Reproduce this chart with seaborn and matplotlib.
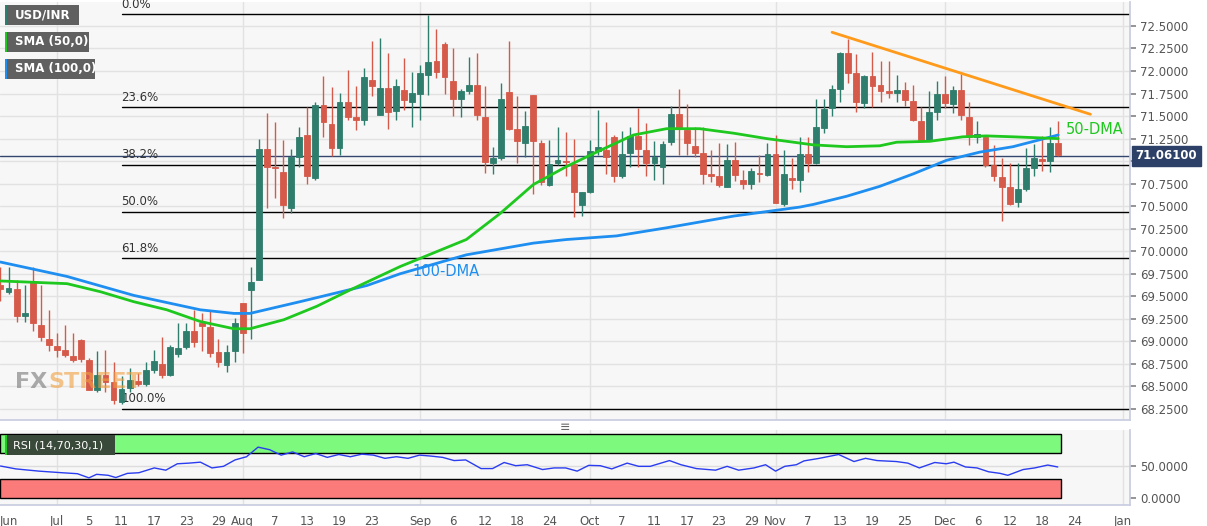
import numpy as np
import pandas as pd
import matplotlib
matplotlib.use("Agg")
import matplotlib.pyplot as plt
import seaborn as sns
from matplotlib.patches import Rectangle
import matplotlib.transforms as mtrans

# ---------------- data ----------------
dates = pd.bdate_range(end="2019-12-20", periods=132)
opens = [69.62,69.55,69.58,69.28,69.66,69.18,69.03,68.95,68.90,68.84,69.02,68.79,68.46,68.63,68.55,68.33,68.48,68.56,68.53,68.68,
         68.75,68.63,68.86,68.94,69.11,69.20,69.16,68.88,68.74,68.89,69.42,69.57,69.68,71.14,70.93,70.88,70.48,71.05,71.29,70.81,
         71.62,71.41,71.15,71.66,71.49,71.46,71.90,71.51,71.81,71.56,71.79,71.66,71.74,71.96,72.11,72.30,71.89,71.69,71.78,71.85,
         71.49,70.98,71.04,71.77,71.36,71.20,71.73,71.20,70.74,70.98,71.00,70.97,70.51,70.66,71.11,71.12,71.27,70.83,71.09,71.28,
         71.12,70.98,70.94,71.21,71.52,71.34,71.17,71.09,70.86,70.84,70.71,71.01,70.79,70.75,70.87,70.85,71.08,70.52,70.81,70.79,
         71.08,70.98,71.37,71.59,71.80,72.20,71.98,71.64,71.94,71.85,71.78,71.76,71.79,71.67,71.45,71.24,71.55,71.75,71.63,71.79,
         71.49,71.27,71.27,70.96,70.82,70.71,70.55,70.69,70.92,71.02,71.00,71.20]
closes = [69.58,69.59,69.28,69.31,69.20,69.05,68.96,68.90,68.85,68.79,68.80,68.46,68.63,68.55,68.35,68.47,68.57,68.53,68.68,68.78,
          68.63,68.94,68.93,69.11,68.99,69.17,68.87,68.77,68.88,69.20,69.09,69.66,71.14,70.94,70.92,70.51,71.05,71.27,70.83,71.62,
          71.43,71.15,71.66,71.49,71.46,71.93,71.83,71.81,71.55,71.83,71.68,71.76,71.98,72.10,71.99,71.93,71.69,71.78,71.85,71.51,
          70.99,71.04,71.69,71.36,71.22,71.39,71.22,70.77,70.97,71.01,70.99,70.66,70.66,71.11,71.16,71.05,70.83,71.08,71.28,71.14,
          70.98,71.05,71.19,71.52,71.37,71.20,71.09,70.86,70.84,70.74,71.01,70.85,70.75,70.89,70.86,71.08,70.54,70.86,70.79,71.08,
          70.98,71.38,71.58,71.80,72.20,71.98,71.66,71.94,71.83,71.78,71.76,71.79,71.68,71.46,71.24,71.54,71.75,71.64,71.79,71.51,
          71.27,71.30,70.96,70.83,70.71,70.52,70.69,70.92,71.03,71.00,71.20,71.07]
highs = [69.83,69.83,69.68,69.63,69.83,69.63,69.35,69.09,69.18,69.09,69.03,68.81,68.89,68.90,68.77,68.61,68.70,68.65,68.77,68.90,
         69.05,68.96,69.20,69.20,69.35,69.31,69.35,69.03,68.96,69.26,69.42,69.83,71.25,71.53,71.43,71.24,71.14,71.38,71.60,71.66,
         71.94,71.82,71.76,72.01,71.83,72.03,72.33,72.37,72.20,71.91,72.14,71.99,72.07,72.62,72.47,72.32,72.25,71.80,72.16,72.20,
         71.83,71.16,71.87,72.33,71.72,71.56,71.73,71.23,71.24,71.38,71.32,71.25,70.66,71.23,71.57,71.43,71.29,71.33,71.38,71.59,
         71.42,71.22,71.22,71.61,71.80,71.63,71.38,71.38,71.12,71.20,71.19,71.21,70.90,70.92,71.07,71.20,71.29,71.12,71.03,71.27,
         71.27,71.69,71.69,71.84,72.21,72.36,72.19,71.96,72.21,72.11,72.11,71.96,71.88,71.85,71.60,71.78,71.89,71.94,71.83,71.97,
         71.66,71.44,71.28,71.18,71.04,70.98,70.98,71.15,71.19,71.28,71.38,71.44]
lows = [69.45,69.52,69.22,69.22,69.11,69.00,68.89,68.83,68.83,68.77,68.77,68.46,68.44,68.44,68.31,68.31,68.44,68.50,68.50,68.65,
        68.59,68.62,68.83,68.92,68.94,68.89,68.83,68.72,68.66,68.77,68.87,69.03,69.68,70.48,70.59,70.37,70.42,70.94,70.75,70.79,
        71.27,71.06,71.07,71.46,71.35,71.40,71.72,71.51,71.36,71.46,71.57,71.38,71.46,71.73,71.92,71.75,71.50,71.49,71.75,71.46,
        70.87,70.86,71.01,71.34,70.98,71.05,70.64,70.74,70.72,70.96,70.84,70.38,70.39,70.65,71.07,70.86,70.77,70.81,70.94,70.94,
        70.84,70.79,70.75,71.18,71.07,71.07,71.05,70.75,70.77,70.71,70.71,70.78,70.69,70.69,70.77,70.84,70.54,70.50,70.69,70.66,
        70.88,70.97,71.31,71.50,71.66,71.87,71.54,71.59,71.60,71.66,71.70,71.66,71.61,71.45,71.22,71.23,71.46,71.59,71.53,71.46,
        71.18,71.20,70.94,70.78,70.33,70.51,70.49,70.67,70.84,70.89,70.88,71.06]

sma50_x = [0,8.25,12.4,16.5,20.6,24.75,28.9,30.9,35.1,39.2,43.3,49.5,53.6,57.7,61.9,66.0,70.1,74.3,78.4,82.5,86.6,90.8,94.9,
           100.7,104.8,108.9,111,115.1,119.2,122.1,125.4,131]
sma50_y = [69.67,69.64,69.55,69.44,69.35,69.22,69.14,69.14,69.24,69.39,69.57,69.83,69.98,70.13,70.42,70.74,70.94,71.12,71.29,
           71.36,71.36,71.31,71.25,71.18,71.16,71.17,71.21,71.22,71.27,71.28,71.27,71.25]
sma100_x = [0,8.25,16.5,24.75,28.9,30.9,37.1,45.4,49.5,57.7,66.0,70.1,76.3,82.5,90.8,99.0,100.7,104.8,108.9,113.1,117.2,121.3,
            125.4,131]
sma100_y = [69.88,69.72,69.51,69.35,69.31,69.31,69.44,69.62,69.75,69.96,70.09,70.13,70.17,70.26,70.39,70.49,70.52,70.61,70.72,
            70.86,71.01,71.10,71.16,71.29]

trend_x = [103, 135]
trend_y = [72.43, 71.52]
fib_high, fib_low = 72.63, 68.25
fib_levels = [0.0, 0.236, 0.382, 0.5, 0.618, 1.0]
fib_labels = ["0.0%", "23.6%", "38.2%", "50.0%", "61.8%", "100.0%"]
last_price = 71.061

rsi_zx = [0,20,50,80,100,115,125,140,150,165,180,200,215,230,245,260,275,290,305,320,335,350,365,380,395,410,425,440,455,470,
          485,500,515,530,545,560,575,590,605,625,640,655,670,685,705,720,735,750,765,780,795,815,830,845,870,885,905,930,945,960,
          980,995,1008,1020,1035,1045,1065,1090,1110,1125,1140,1165,1180,1195,1215,1230,1240,1255,1270,1285,1300,1310,1330,1345,
          1362,1375]
rsi_val = [50,45.5,42,39.5,38,31.5,37,35.5,32,38.5,39.5,47,43.5,53.5,54.5,56,47,49.5,59.5,64.5,79.5,75.5,67,72,64.5,69.5,63.5,
           68,64.5,68.5,67,62,64.5,62,67,65.5,63.5,58.5,59.5,46,46,55.5,50.5,52,44.5,47,47,42,51,50.5,45.5,54.5,49.5,49.5,58.5,52,
           46,43.5,49.5,43.5,47,52,42,49.5,52,58,62,68,57,62,58.5,57,54.5,47,55.5,53.5,56,48.5,47,41,38.5,35.5,44.5,47,51.5,48.5]

tick_dates = ["2019-06-21","2019-07-01","2019-07-05","2019-07-11","2019-07-17","2019-07-23","2019-07-29","2019-08-01",
              "2019-08-07","2019-08-13","2019-08-19","2019-08-23","2019-09-02","2019-09-06","2019-09-12","2019-09-18",
              "2019-09-24","2019-10-01","2019-10-07","2019-10-11","2019-10-17","2019-10-23","2019-10-29","2019-11-01",
              "2019-11-07","2019-11-13","2019-11-19","2019-11-25","2019-12-02","2019-12-06","2019-12-12","2019-12-18",
              "2019-12-24","2020-01-01"]
tick_labels = ["Jun","Jul","5","11","17","23","29","Aug","7","13","19","23","Sep","6","12","18","24","Oct","7","11","17",
               "23","29","Nov","7","13","19","25","Dec","6","12","18","24","Jan"]
month_dates = ["2019-07-01","2019-08-01","2019-09-02","2019-10-01","2019-11-01","2019-12-02","2020-01-01"]

# ---------------- helpers ----------------
all_days = pd.bdate_range(start=dates[0], end="2020-01-10")
pos = {d.strftime("%Y-%m-%d"): i for i, d in enumerate(all_days)}
idx = np.arange(len(dates))

sns.set_theme(style="white")
plt.rcParams['font.family'] = ['DejaVu Sans']

W, H = 1207, 526
fig = plt.figure(figsize=(W/100, H/100), dpi=100)
fig.patch.set_facecolor("white")
ax = fig.add_axes([0, (H-420)/H, 1130/W, 418/H])
rax = fig.add_axes([0, (H-505)/H, 1130/W, 75/H])

XL = (-0.06, 139.9)
GREEN, RED = "#2f7d6c", "#d65a4a"
grid_c = "#e2e2e2"
tick_c = "#555555"

for a in (ax, rax):
    a.set_facecolor("#f7f7f7")
    a.set_xlim(*XL)
    for s in a.spines.values():
        s.set_color("#c8cde0")
    a.spines["top"].set_visible(False)
    a.spines["left"].set_visible(False)
    a.yaxis.tick_right()
    a.tick_params(axis="y", colors="#888888", labelcolor=tick_c, labelsize=8.5, length=4, direction="out")
    for md in month_dates:
        a.axvline(pos[md], color=grid_c, lw=1, zorder=0)

# main panel
ax.set_ylim(68.127, 72.766)
yt = np.arange(68.25, 72.51, 0.25)
ax.set_yticks(yt)
ax.set_yticklabels(["" if abs(v - 71.0) < 1e-6 else f"{v:.4f}" for v in yt])
for v in yt:
    ax.axhline(v, color=grid_c, lw=1, zorder=0)
ax.set_xticks([])

# fib lines
rng = fib_high - fib_low
for lv, lab in zip(fib_levels, fib_labels):
    val = fib_high - lv * rng
    ax.plot([15, XL[1]], [val, val], color="black", lw=1, zorder=2)
    ax.text(15, val + 0.04, lab, fontsize=8.5, color="#333333", va="bottom", ha="left", zorder=3)

ax.axhline(last_price, color="#34466e", lw=1, zorder=2)

# candles
o, c, h, l = map(np.array, (opens, closes, highs, lows))
cols = np.where(c >= o, GREEN, RED)
ax.vlines(idx, l, h, colors=cols, lw=1, zorder=4)
bot = np.minimum(o, c)
hgt = np.maximum(np.abs(c - o), 0.012)
ax.bar(idx, hgt, bottom=bot, width=0.72, color=cols, edgecolor=cols, lw=0.6, zorder=5)

# SMAs
sns.lineplot(x=sma100_x, y=sma100_y, ax=ax, color="#1e8ef0", lw=2, zorder=6)
sns.lineplot(x=sma50_x, y=sma50_y, ax=ax, color="#1ec81e", lw=2, zorder=7)
sns.lineplot(x=trend_x, y=trend_y, ax=ax, color="#ff9a1a", lw=2, zorder=7)

ax.text(132, 71.35, "50-DMA", color="#1ec81e", fontsize=10.5, ha="left", va="center", zorder=8)
ax.text(51, 69.77, "100-DMA", color="#1e8ef0", fontsize=10.5, ha="left", va="center", zorder=8)

# price label
tr = mtrans.blended_transform_factory(ax.transAxes, ax.transData)
ax.text(1.005, last_price, "71.06100", transform=tr, color="white", fontsize=8.5, fontweight="bold",
        va="center", ha="left", clip_on=False, zorder=20,
        bbox=dict(boxstyle="square,pad=0.3", fc="#2d4068", ec="#2d4068"))

# watermark
ax.text(15/1130, 0.09, "FX", transform=ax.transAxes, color="#888888", alpha=0.7, fontsize=16, fontweight="bold",
        va="center", ha="left", zorder=9)
ax.text(48/1130, 0.09, "STREET", transform=ax.transAxes, color="#f0a040", alpha=0.6, fontsize=16, fontweight="bold",
        va="center", ha="left", zorder=9)

# legend boxes
def tag(axis_fig_y, width, text, strip):
    y0 = (H - axis_fig_y - 20) / H
    fig.patches.append(Rectangle((5/W, y0), width/W, 20/H, transform=fig.transFigure, fc="#606060", ec="none", zorder=10))
    fig.patches.append(Rectangle((5/W, y0), 2/W, 20/H, transform=fig.transFigure, fc=strip, ec="none", zorder=11))
    fig.text(15/W, y0 + 10/H, text, color="white", fontsize=8.5, fontweight="bold", va="center", ha="left", zorder=12)

tag(5, 74, "USD/INR", GREEN)
tag(32, 84, "SMA (50,0)", "#1ec81e")
tag(59, 90, "SMA (100,0)", "#1e8ef0")

# RSI panel
rax.set_ylim(-10.9, 106.25)
rax.set_yticks([0, 50])
rax.set_yticklabels(["0.0000", "50.0000"])
rax.axhline(50, color="#dddddd", lw=1, zorder=0)
rax.add_patch(Rectangle((XL[0], 70), 131 - XL[0] + 0.3, 30, fc="#7df97d", ec="black", lw=1, zorder=1))
rax.add_patch(Rectangle((XL[0], 0), 131 - XL[0] + 0.3, 30, fc="#fb7b7b", ec="black", lw=1, zorder=1))
rsi_x = [z / 10.5 for z in rsi_zx]
sns.lineplot(x=rsi_x, y=rsi_val, ax=rax, color="#2a3cf0", lw=1, zorder=3)
rax.set_xticks([pos[d] for d in tick_dates])
rax.set_xticklabels(tick_labels)
rax.tick_params(axis="x", colors="#888888", labelcolor=tick_c, labelsize=8.5, length=4, direction="out")
fig.patches.append(Rectangle((5/W, (H-455)/H), 110/W, 20/H, transform=fig.transFigure, fc="#3a4a3a", ec="none", zorder=10))
fig.patches.append(Rectangle((5/W, (H-455)/H), 2/W, 20/H, transform=fig.transFigure, fc="#1ec81e", ec="none", zorder=11))
fig.text(13/W, (H-445)/H, "RSI (14,70,30,1)", color="white", fontsize=8, va="center", ha="left", zorder=12)
fig.text(565/W, (H-427)/H, "≡", color="#666666", fontsize=9, va="center", ha="center")

for a in (ax, rax):
    a.set_xlabel("")
    a.set_ylabel("")
    leg = a.get_legend()
    if leg:
        leg.remove()

fig.savefig("out.png", dpi=100)
